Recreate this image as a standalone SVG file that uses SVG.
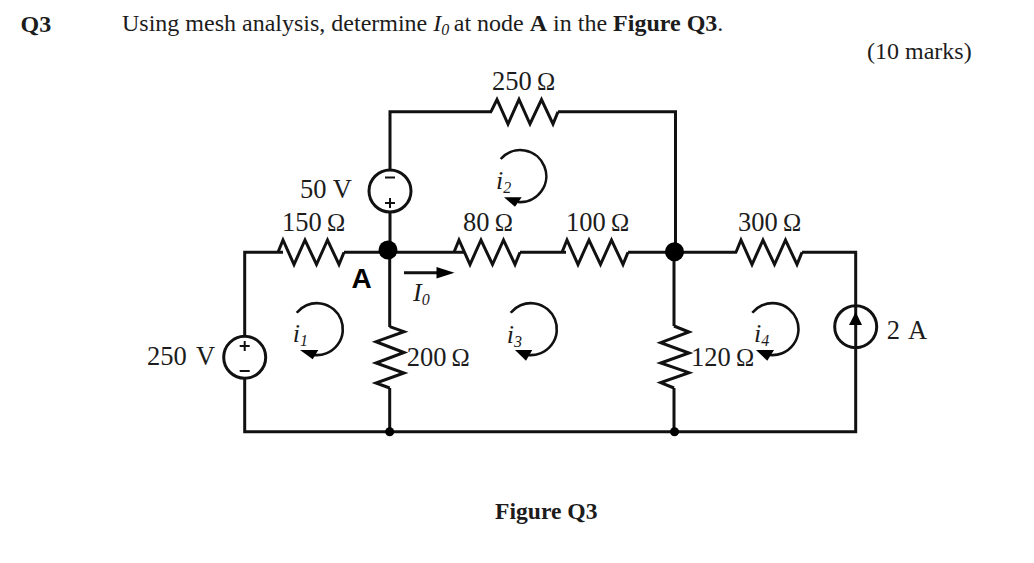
<svg xmlns="http://www.w3.org/2000/svg" width="1034" height="563" viewBox="0 0 1034 563">
<style>
text{font-family:"Liberation Serif","Times New Roman",serif;font-size:24px;fill:#1c1c1c}
.v{font-size:26.5px}
.g{word-spacing:3px}
.o{font-size:24.5px}
.b{font-weight:bold}
.i{font-style:italic}
.m{font-style:italic;font-size:26px}
.s{font-size:16px;font-style:italic}
.sa{font-family:"Liberation Sans",Arial,sans-serif;font-weight:bold;font-size:28px;fill:#000}
.w,.r,.a{fill:none;stroke:#111;stroke-width:3;stroke-linejoin:miter}
.a{stroke-width:2.6}
.src{fill:#fff;stroke:#111;stroke-width:3}
.p{fill:none;stroke:#111;stroke-width:2}
.d,.h{fill:#000}
</style>
<rect width="1034" height="563" fill="#fff"/>
<g id="header">
<text class="b" x="20.5" y="32">Q3</text>
<text x="122" y="31">Using mesh analysis, determine <tspan class="i">I</tspan><tspan class="s" dy="4">0</tspan><tspan dy="-4" dx="4.5">at node </tspan><tspan class="b">A</tspan> in the <tspan class="b">Figure Q3</tspan>.</text>
<text x="867" y="59">(10 marks)</text>
</g>
<g id="connectors">
<path class="w" d="M492 111.7H390V170M390 212V252.3M558 111.7H675.5V252M244.7 336V252.3H283M344 252.3H465M520 252.3H566M628 252.3H737M802 252.3H855.7V305M855.7 348V431.7H244.7V378M389.7 252V327M389.7 388V431.7M674 252V326M674 388V431.7"/>
</g>
<g id="r250top"><text class="v" x="492" y="90">250 <tspan class="o" dx="-1.5">Ω</tspan></text><polyline class="r" points="491,111.7 497,99.5 508,124 519,99.5 530,124 541.5,99.5 553,124 558,111.7"/></g>
<g id="r150"><text class="v" x="282" y="230.7">150 <tspan class="o" dx="-1.5">Ω</tspan></text><polyline class="r" points="278,252.3 283,240 294,264.5 305,240 316.5,264.5 327.5,240 339,264.5 344,252.3"/></g>
<g id="r80"><text class="v" x="463" y="230.7">80 <tspan class="o" dx="-1.5">Ω</tspan></text><polyline class="r" points="454,252.3 459,240 470,264.5 481,240 492.5,264.5 503.5,240 515,264.5 520,252.3"/></g>
<g id="r100"><text class="v" x="566" y="230.7">100 <tspan class="o" dx="-1.5">Ω</tspan></text><polyline class="r" points="562,252.3 567,240 578,264.5 589,240 600.5,264.5 611.5,240 623,264.5 628,252.3"/></g>
<g id="r300"><text class="v" x="738" y="230.7">300 <tspan class="o" dx="-1.5">Ω</tspan></text><polyline class="r" points="736,252.3 741,240 752,264.5 763,240 774.5,264.5 785.5,240 797,264.5 802,252.3"/></g>
<g id="r200"><polyline class="r" points="389.7,326.7 404,331.7 376,341.7 404,352.5 376,363 404,373 376,383 389.7,388"/><text class="v" x="406.7" y="366">200 <tspan class="o" dx="-1.5">Ω</tspan></text></g>
<g id="r120"><polyline class="r" points="674,326 689,332 660.7,342.7 689,353 660.7,363 689,372.7 660.7,382.7 674,388"/><text class="v" x="691" y="366">120 <tspan class="o" dx="-1.5">Ω</tspan></text></g>
<g id="v50"><text class="v" x="300" y="197.7">50 V</text><circle class="src" cx="390" cy="191" r="21"/><path class="p" d="M385 177.5H395M385 203H395M390 198V208"/></g>
<g id="v250"><text class="v g" x="147" y="365">250 V</text><circle class="src" cx="244.7" cy="357.3" r="21"/><path class="p" d="M239.7 346H249.7M244.7 341V351M239.7 371H249.7"/></g>
<g id="i2a"><circle class="src" cx="855.7" cy="326.7" r="21"/><path class="w" d="M855.7 305V348"/><path class="h" d="M855.7 312L862 325H849Z"/><text class="v g" x="886.7" y="339">2 A</text></g>
<g id="nodeA"><circle class="d" cx="388" cy="250" r="9.5"/><text class="sa" x="351.5" y="288">A</text></g>
<g id="nodeB"><circle class="d" cx="674.5" cy="251.7" r="9.5"/></g>
<g id="nodeC"><circle class="d" cx="389.7" cy="431.7" r="4.5"/></g>
<g id="nodeD"><circle class="d" cx="674.5" cy="431.7" r="4.5"/></g>
<g id="current-I0"><path class="w" d="M404 272.7H440"/><path class="h" d="M454.5 272.7L436.5 267V278.5Z"/><text class="m" x="413" y="301">I<tspan class="s" dy="4">0</tspan></text></g>
<g id="mesh1"><path class="a" d="M296.7 312.7A26 26 0 1 1 314 355"/><path class="h" d="M300 350H318.3L312.7 359.3Z"/><text class="m" x="292.7" y="341.7">i<tspan class="s" dy="4">1</tspan></text></g>
<g id="mesh2"><path class="a" d="M500.7 159A26 26 0 1 1 518 202"/><path class="h" d="M504 197.3H521.7L515 206.7Z"/><text class="m" x="496" y="189">i<tspan class="s" dy="4">2</tspan></text></g>
<g id="mesh3"><path class="a" d="M510.7 312.7A26 26 0 1 1 528 355"/><path class="h" d="M515 350H532.3L526 360.7Z"/><text class="m" x="506.7" y="343.3">i<tspan class="s" dy="4">3</tspan></text></g>
<g id="mesh4"><path class="a" d="M752.3 312.7A26 26 0 1 1 770 355"/><path class="h" d="M756 350H774L767.3 360.7Z"/><text class="m" x="754" y="342">i<tspan class="s" dy="4">4</tspan></text></g>
<text class="b" x="495" y="519" style="font-size:23.6px">Figure Q3</text>
</svg>
